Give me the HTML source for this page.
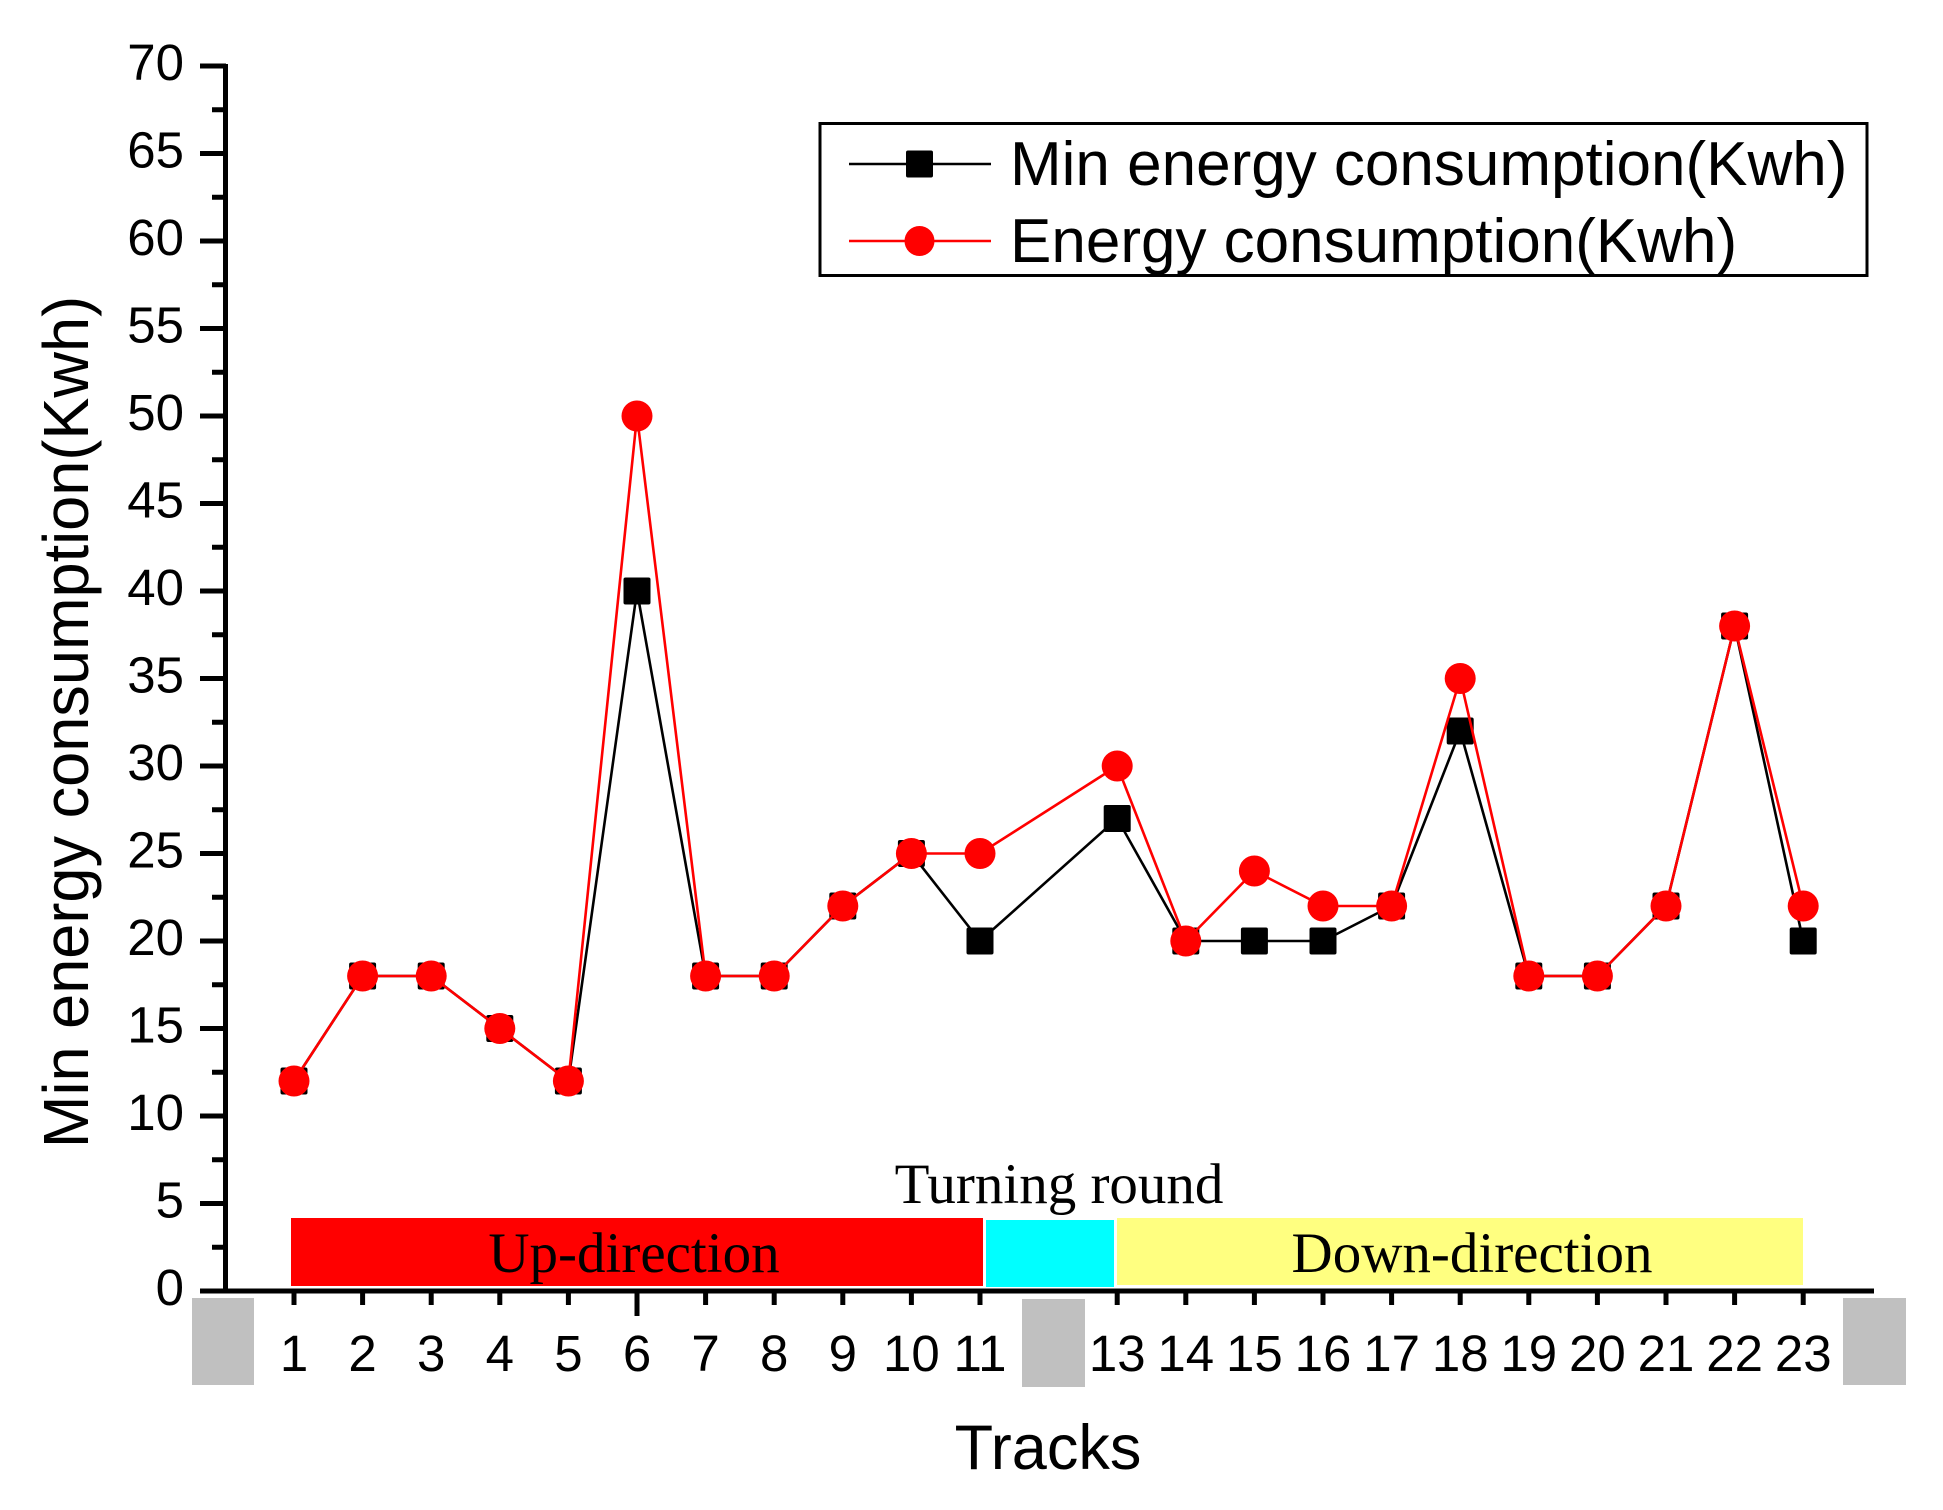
<!DOCTYPE html>
<html><head><meta charset="utf-8"><style>
html,body{margin:0;padding:0;background:#fff;}
svg{display:block;}
</style></head><body>
<svg width="1943" height="1510" viewBox="0 0 1943 1510" xmlns="http://www.w3.org/2000/svg">
<rect width="1943" height="1510" fill="#fff"/>
<!-- bars -->
<rect x="291" y="1218" width="692" height="68" fill="#ff0000"/>
<rect x="986" y="1220" width="128" height="67" fill="#00ffff"/>
<rect x="1117" y="1218" width="686" height="67" fill="#ffff80"/>
<g font-family="'Liberation Serif', serif" font-size="57" fill="#000" text-anchor="middle">
<text x="634" y="1272">Up-direction</text>
<text x="1472" y="1272">Down-direction</text>
<text x="1059" y="1203">Turning round</text>
</g>
<!-- gray boxes -->
<rect x="192" y="1298" width="62" height="87" fill="#c0c0c0"/>
<rect x="1022" y="1299" width="63" height="88" fill="#c0c0c0"/>
<rect x="1843" y="1298" width="63" height="87" fill="#c0c0c0"/>
<!-- axes -->
<g stroke="#000" stroke-width="5" fill="none">
<line x1="225.5" y1="64" x2="225.5" y2="1293"/>
<line x1="200" y1="1291" x2="1874" y2="1291"/>
<path d="M200 66H226M200 153.5H226M200 241H226M200 328.5H226M200 416H226M200 503.5H226M200 591H226M200 678.5H226M200 766H226M200 853.5H226M200 941H226M200 1028.5H226M200 1116H226M200 1203.5H226"/>
<path d="M212 109.75H226M212 197.25H226M212 284.75H226M212 372.25H226M212 459.75H226M212 547.25H226M212 634.75H226M212 722.25H226M212 809.75H226M212 897.25H226M212 984.75H226M212 1072.25H226M212 1159.75H226M212 1247.25H226"/>
<path d="M294 1291V1305M362.6 1291V1305M431.2 1291V1305M499.8 1291V1305M568.4 1291V1305M637 1291V1316M705.6 1291V1305M774.2 1291V1305M842.8 1291V1305M911.4 1291V1305M980 1291V1305M1117.2 1291V1305M1185.8 1291V1305M1254.4 1291V1305M1323 1291V1305M1391.6 1291V1305M1460.2 1291V1305M1528.8 1291V1305M1597.4 1291V1305M1666 1291V1305M1734.6 1291V1305M1803.2 1291V1305"/>
</g>
<!-- y tick labels -->
<g font-family="'Liberation Sans', Arial, sans-serif" font-size="51" fill="#000" text-anchor="end">
<text x="184" y="80">70</text>
<text x="184" y="167.5">65</text>
<text x="184" y="255">60</text>
<text x="184" y="342.5">55</text>
<text x="184" y="430">50</text>
<text x="184" y="517.5">45</text>
<text x="184" y="605">40</text>
<text x="184" y="692.5">35</text>
<text x="184" y="780">30</text>
<text x="184" y="867.5">25</text>
<text x="184" y="955">20</text>
<text x="184" y="1042.5">15</text>
<text x="184" y="1130">10</text>
<text x="184" y="1217.5">5</text>
<text x="184" y="1305">0</text>
</g>
<!-- x tick labels -->
<g font-family="'Liberation Sans', Arial, sans-serif" font-size="51" fill="#000" text-anchor="middle">
<text x="294" y="1371">1</text>
<text x="362.6" y="1371">2</text>
<text x="431.2" y="1371">3</text>
<text x="499.8" y="1371">4</text>
<text x="568.4" y="1371">5</text>
<text x="637" y="1371">6</text>
<text x="705.6" y="1371">7</text>
<text x="774.2" y="1371">8</text>
<text x="842.8" y="1371">9</text>
<text x="911.4" y="1371">10</text>
<text x="980" y="1371">11</text>
<text x="1117.2" y="1371">13</text>
<text x="1185.8" y="1371">14</text>
<text x="1254.4" y="1371">15</text>
<text x="1323" y="1371">16</text>
<text x="1391.6" y="1371">17</text>
<text x="1460.2" y="1371">18</text>
<text x="1528.8" y="1371">19</text>
<text x="1597.4" y="1371">20</text>
<text x="1666" y="1371">21</text>
<text x="1734.6" y="1371">22</text>
<text x="1803.2" y="1371">23</text>
</g>
<!-- axis titles -->
<text x="1048" y="1469" font-family="'Liberation Sans', Arial, sans-serif" font-size="63" text-anchor="middle" fill="#000">Tracks</text>
<text transform="translate(88,722) rotate(-90) scale(0.986,1)" font-family="'Liberation Sans', Arial, sans-serif" font-size="64" text-anchor="middle" fill="#000">Min energy consumption(Kwh)</text>

<!-- black series -->
<polyline fill="none" stroke="#000" stroke-width="2.6" stroke-linejoin="miter" points="294,1081 362.6,976 431.2,976 499.8,1028.5 568.4,1081 637,591 705.6,976 774.2,976 842.8,906 911.4,853.5 980,941 1117.2,818.5 1185.8,941 1254.4,941 1323,941 1391.6,906 1460.2,731 1528.8,976 1597.4,976 1666,906 1734.6,626 1803.2,941"/>
<g fill="#000">
<rect x="280.5" y="1067.5" width="27" height="27" rx="2"/>
<rect x="349.1" y="962.5" width="27" height="27" rx="2"/>
<rect x="417.7" y="962.5" width="27" height="27" rx="2"/>
<rect x="486.3" y="1015" width="27" height="27" rx="2"/>
<rect x="554.9" y="1067.5" width="27" height="27" rx="2"/>
<rect x="623.5" y="577.5" width="27" height="27" rx="2"/>
<rect x="692.1" y="962.5" width="27" height="27" rx="2"/>
<rect x="760.7" y="962.5" width="27" height="27" rx="2"/>
<rect x="829.3" y="892.5" width="27" height="27" rx="2"/>
<rect x="897.9" y="840" width="27" height="27" rx="2"/>
<rect x="966.5" y="927.5" width="27" height="27" rx="2"/>
<rect x="1103.7" y="805" width="27" height="27" rx="2"/>
<rect x="1172.3" y="927.5" width="27" height="27" rx="2"/>
<rect x="1240.9" y="927.5" width="27" height="27" rx="2"/>
<rect x="1309.5" y="927.5" width="27" height="27" rx="2"/>
<rect x="1378.1" y="892.5" width="27" height="27" rx="2"/>
<rect x="1446.7" y="717.5" width="27" height="27" rx="2"/>
<rect x="1515.3" y="962.5" width="27" height="27" rx="2"/>
<rect x="1583.9" y="962.5" width="27" height="27" rx="2"/>
<rect x="1652.5" y="892.5" width="27" height="27" rx="2"/>
<rect x="1721.1" y="612.5" width="27" height="27" rx="2"/>
<rect x="1789.7" y="927.5" width="27" height="27" rx="2"/>
</g>
<!-- red series -->
<polyline fill="none" stroke="#ff0000" stroke-width="2.6" stroke-linejoin="miter" points="294,1081 362.6,976 431.2,976 499.8,1028.5 568.4,1081 637,416 705.6,976 774.2,976 842.8,906 911.4,853.5 980,853.5 1117.2,766 1185.8,941 1254.4,871 1323,906 1391.6,906 1460.2,678.5 1528.8,976 1597.4,976 1666,906 1734.6,626 1803.2,906"/>
<g fill="#ff0000">
<circle cx="294" cy="1081" r="15.5"/>
<circle cx="362.6" cy="976" r="15.5"/>
<circle cx="431.2" cy="976" r="15.5"/>
<circle cx="499.8" cy="1028.5" r="15.5"/>
<circle cx="568.4" cy="1081" r="15.5"/>
<circle cx="637" cy="416" r="15.5"/>
<circle cx="705.6" cy="976" r="15.5"/>
<circle cx="774.2" cy="976" r="15.5"/>
<circle cx="842.8" cy="906" r="15.5"/>
<circle cx="911.4" cy="853.5" r="15.5"/>
<circle cx="980" cy="853.5" r="15.5"/>
<circle cx="1117.2" cy="766" r="15.5"/>
<circle cx="1185.8" cy="941" r="15.5"/>
<circle cx="1254.4" cy="871" r="15.5"/>
<circle cx="1323" cy="906" r="15.5"/>
<circle cx="1391.6" cy="906" r="15.5"/>
<circle cx="1460.2" cy="678.5" r="15.5"/>
<circle cx="1528.8" cy="976" r="15.5"/>
<circle cx="1597.4" cy="976" r="15.5"/>
<circle cx="1666" cy="906" r="15.5"/>
<circle cx="1734.6" cy="626" r="15.5"/>
<circle cx="1803.2" cy="906" r="15.5"/>
</g>

<!-- legend -->
<rect x="820" y="123.5" width="1047" height="152" fill="#fff" stroke="#000" stroke-width="3"/>
<line x1="849" y1="164" x2="991" y2="164" stroke="#000" stroke-width="2.6"/>
<rect x="906" y="150.5" width="27" height="27" rx="2" fill="#000"/>
<line x1="849" y1="241" x2="991" y2="241" stroke="#ff0000" stroke-width="2.6"/>
<circle cx="919.5" cy="241" r="15" fill="#ff0000"/>
<g font-family="'Liberation Sans', Arial, sans-serif" font-size="62" fill="#000">
<text x="1010" y="185">Min energy consumption(Kwh)</text>
<text x="1010" y="262">Energy consumption(Kwh)</text>
</g>
</svg>
</body></html>
